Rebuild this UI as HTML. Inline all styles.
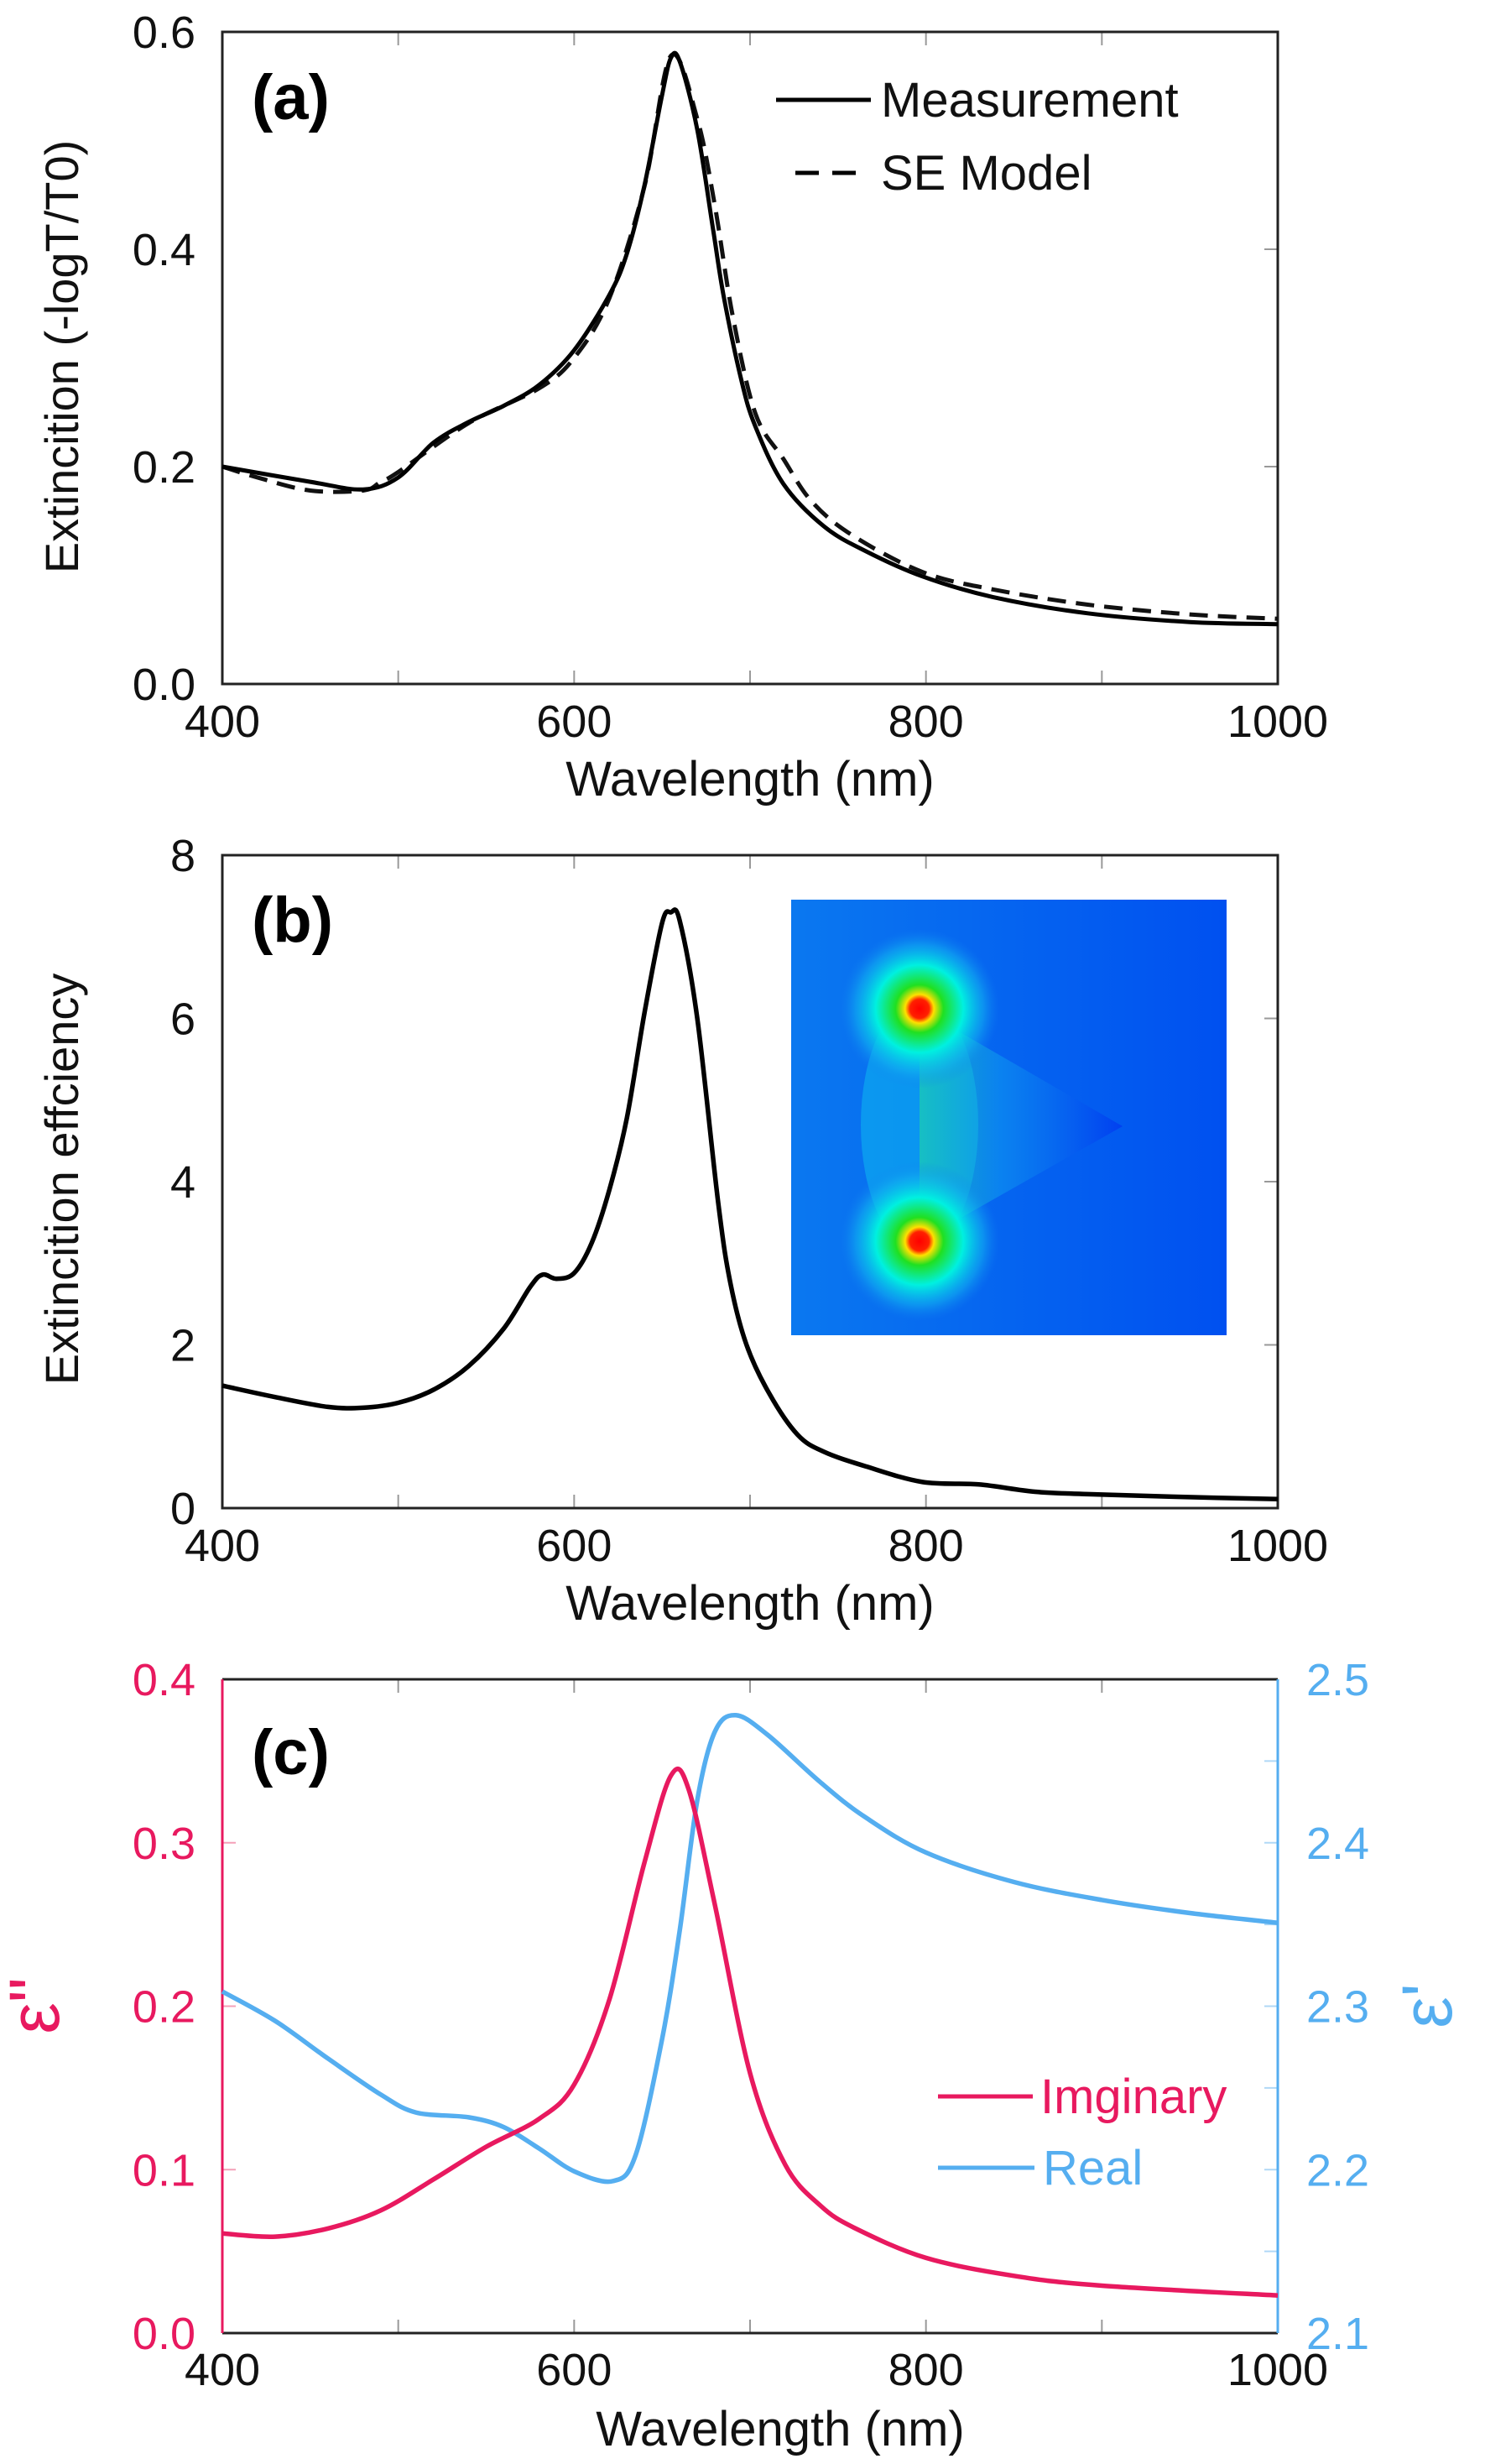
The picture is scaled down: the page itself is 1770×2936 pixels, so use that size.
<!DOCTYPE html>
<html><head><meta charset="utf-8">
<style>
html,body{margin:0;padding:0;background:#fff;}
svg{display:block;}
text{font-family:"Liberation Sans",sans-serif;}
</style></head>
<body>
<svg id="fig" width="1770" height="2936" viewBox="0 0 1770 2936" xmlns="http://www.w3.org/2000/svg">
<defs>
  <radialGradient id="hot" cx="0.5" cy="0.5" r="0.5">
    <stop offset="0" stop-color="#ff0000"/>
    <stop offset="0.12" stop-color="#ff2000"/>
    <stop offset="0.18" stop-color="#ffe000"/>
    <stop offset="0.3" stop-color="#20e020"/>
    <stop offset="0.55" stop-color="#00f0e0"/>
    <stop offset="0.8" stop-color="#10b0f0" stop-opacity="0.6"/>
    <stop offset="1" stop-color="#1080f0" stop-opacity="0"/>
  </radialGradient>
  <linearGradient id="bg" x1="0" y1="0" x2="1" y2="0">
    <stop offset="0" stop-color="#0a78f0"/>
    <stop offset="1" stop-color="#0050f0"/>
  </linearGradient>
  <linearGradient id="tri" x1="0" y1="0" x2="1" y2="0">
    <stop offset="0" stop-color="#20e0a0" stop-opacity="0.8"/>
    <stop offset="0.4" stop-color="#10a0f0" stop-opacity="0.7"/>
    <stop offset="1" stop-color="#0030f0" stop-opacity="0.9"/>
  </linearGradient>
</defs>
<g id="root"></g>
</svg>
<script>
// ---------- data ----------
const lamA = [400,450,480,500,520,540,560,580,600,620,630,640,650,655,660,670,679,685,695,703,719,742,766,798,838,892,950,1000];
const measA = [0.200,0.186,0.179,0.190,0.222,0.241,0.256,0.275,0.307,0.358,0.396,0.459,0.542,0.576,0.573,0.510,0.418,0.357,0.280,0.237,0.184,0.145,0.122,0.099,0.080,0.065,0.057,0.055];
const lamM = [400,420,450,480,490,500,540,580,600,620,640,655,670,680,690,703,719,735,758,798,838,892,950,1000];
const modelA = [0.200,0.190,0.178,0.178,0.186,0.195,0.240,0.272,0.300,0.355,0.458,0.578,0.520,0.440,0.340,0.249,0.207,0.168,0.137,0.103,0.087,0.073,0.064,0.060];
const lamB = [400,430,460,480,500,520,540,560,575,582,590,600,610,620,630,640,650,655,660,670,682,689,698,711,727,742,766,798,830,862,894,940,1000];
const effB = [1.50,1.36,1.24,1.23,1.29,1.45,1.74,2.20,2.71,2.86,2.81,2.88,3.25,3.90,4.78,6.07,7.17,7.30,7.20,6.00,3.72,2.74,2.00,1.40,0.90,0.69,0.51,0.32,0.29,0.20,0.17,0.14,0.11];
const lamCi = [400,430,460,490,520,550,580,600,620,640,655,665,680,700,720,740,760,800,850,900,1000];
const imagC = [0.061,0.059,0.064,0.075,0.094,0.114,0.131,0.152,0.204,0.288,0.341,0.333,0.262,0.159,0.103,0.078,0.064,0.046,0.035,0.029,0.023];
const lamCr = [400,430,460,490,510,540,560,580,600,622,635,650,660,670,680,692,710,740,765,800,850,900,950,1000];
const realC = [2.309,2.291,2.268,2.246,2.235,2.232,2.226,2.213,2.199,2.193,2.209,2.280,2.346,2.426,2.468,2.478,2.466,2.437,2.416,2.394,2.376,2.365,2.357,2.351];
const xTicks = [400,600,800,1000];
const yTicksA = [0.0,0.2,0.4,0.6];
const yTicksB = [0,2,4,6,8];
const yTicksCL = [0.0,0.1,0.2,0.3,0.4];
const yTicksCR = [2.1,2.2,2.3,2.4,2.5];

// ---------- helpers ----------
const NS = "http://www.w3.org/2000/svg";
const root = document.getElementById('root');
const X0 = 265, X1 = 1523;
function xs(l){ return X0 + (l-400)/600*(X1-X0); }
function mk(tag, attrs, parent){
  const e = document.createElementNS(NS, tag);
  for (const k in attrs) e.setAttribute(k, attrs[k]);
  (parent||root).appendChild(e);
  return e;
}
function smooth(pts){
  let d = "M"+pts[0][0].toFixed(1)+","+pts[0][1].toFixed(1);
  for (let i=0;i<pts.length-1;i++){
    const p0 = pts[Math.max(0,i-1)], p1=pts[i], p2=pts[i+1], p3=pts[Math.min(pts.length-1,i+2)];
    const c1x = p1[0]+(p2[0]-p0[0])/6, c1y = p1[1]+(p2[1]-p0[1])/6;
    const c2x = p2[0]-(p3[0]-p1[0])/6, c2y = p2[1]-(p3[1]-p1[1])/6;
    d += " C"+c1x.toFixed(1)+","+c1y.toFixed(1)+" "+c2x.toFixed(1)+","+c2y.toFixed(1)+" "+p2[0].toFixed(1)+","+p2[1].toFixed(1);
  }
  return d;
}
function txt(s, x, y, size, fill, anchor, extra){
  const t = mk('text', Object.assign({x:x, y:y, 'font-size':size, fill:fill, 'text-anchor':anchor||'start'}, extra||{}));
  t.textContent = s;
  return t;
}

// ================= Panel A =================
(function(){
  const top=38, bot=815;
  const ys = v => bot - v/0.6*(bot-top);
  const g = mk('g',{});
   
  for (let l=500;l<1000;l+=100){
    mk('line',{x1:xs(l),x2:xs(l),y1:bot,y2:bot-16,stroke:'#999','stroke-width':2},g);
    mk('line',{x1:xs(l),x2:xs(l),y1:top,y2:top+16,stroke:'#999','stroke-width':2},g);
  }
  yTicksA.forEach(v=>{
    mk('line',{x1:X1,x2:X1-16,y1:ys(v),y2:ys(v),stroke:'#999','stroke-width':2},g);
    const t = txt(v.toFixed(1), 233, ys(v)+19, 54, '#111', 'end', {});
     
  });
  mk('rect',{x:X0,y:top,width:X1-X0,height:bot-top,fill:'none',stroke:'#222','stroke-width':3},g);
  xTicks.forEach(v=>{
    const t = txt(String(v), xs(v), 878, 54, '#111', 'middle');
     
  });
  const xt = txt('Wavelength (nm)', 894, 948, 58, '#111', 'middle');
   
  const yt = txt('Extincition (-logT/T0)', 0, 0, 56, '#111', 'middle', {transform:'translate(93,425) rotate(-90)'});
   
  const lab = txt('(a)', 300, 142, 76, '#000', 'start', {'font-weight':'bold'});
   
  const pm = mk('path',{d:smooth(lamM.map((l,i)=>[xs(l),ys(modelA[i])])),fill:'none',stroke:'#111','stroke-width':5,'stroke-dasharray':'22 12'},g);
   
  const p = mk('path',{d:smooth(lamA.map((l,i)=>[xs(l),ys(measA[i])])),fill:'none',stroke:'#000','stroke-width':5},g);
   
  const l1 = mk('line',{x1:925,x2:1038,y1:119,y2:119,stroke:'#000','stroke-width':5},g);
   
  const t1 = txt('Measurement', 1050, 139, 58, '#111');
   
  const l2 = mk('line',{x1:948,x2:1036,y1:206,y2:206,stroke:'#000','stroke-width':5,'stroke-dasharray':'28 16'},g);
   
  const t2 = txt('SE Model', 1050, 226, 58, '#111');
   
})();

// ================= Panel B =================
(function(){
  const top=1019, bot=1797;
  const ys = v => bot - v/8*(bot-top);
  const g = mk('g',{});
   
  for (let l=500;l<1000;l+=100){
    mk('line',{x1:xs(l),x2:xs(l),y1:bot,y2:bot-16,stroke:'#999','stroke-width':2},g);
    mk('line',{x1:xs(l),x2:xs(l),y1:top,y2:top+16,stroke:'#999','stroke-width':2},g);
  }
  yTicksB.forEach(v=>{
    mk('line',{x1:X1,x2:X1-16,y1:ys(v),y2:ys(v),stroke:'#999','stroke-width':2},g);
    const t = txt(String(v), 233, ys(v)+19, 54, '#111', 'end');
     
  });
  mk('rect',{x:X0,y:top,width:X1-X0,height:bot-top,fill:'none',stroke:'#222','stroke-width':3},g);
  xTicks.forEach(v=>{
    const t = txt(String(v), xs(v), 1860, 54, '#111', 'middle');
     
  });
  const xt = txt('Wavelength (nm)', 894, 1930, 58, '#111', 'middle');
   
  const yt = txt('Extincition effciency', 0, 0, 56, '#111', 'middle', {transform:'translate(93,1405) rotate(-90)'});
   
  const lab = txt('(b)', 300, 1122, 76, '#000', 'start', {'font-weight':'bold'});
   
  // inset
  const ins = mk('g',{},g);
   
  mk('rect',{x:943,y:1072,width:519,height:519,fill:'url(#bg)'},ins);
  mk('ellipse',{cx:1096,cy:1340,rx:70,ry:150,fill:'#10c8f0',opacity:0.45},ins);
  mk('polygon',{points:'1096,1202 1338,1342 1096,1479',fill:'url(#tri)',opacity:0.7},ins);
  mk('circle',{cx:1096,cy:1202,r:95,fill:'url(#hot)'},ins);
  mk('circle',{cx:1096,cy:1479,r:95,fill:'url(#hot)'},ins);
  const p = mk('path',{d:smooth(lamB.map((l,i)=>[xs(l),ys(effB[i])])),fill:'none',stroke:'#000','stroke-width':5.5},g);
   
})();

// ================= Panel C =================
(function(){
  const top=2001, bot=2780;
  const PINK='#e8195f', BLUE='#55aef0';
  const ysL = v => bot - v/0.4*(bot-top);
  const ysR = v => bot - (v-2.1)/0.4*(bot-top);
  const g = mk('g',{});
   
  for (let l=500;l<1000;l+=100){
    mk('line',{x1:xs(l),x2:xs(l),y1:bot,y2:bot-16,stroke:'#999','stroke-width':2},g);
    mk('line',{x1:xs(l),x2:xs(l),y1:top,y2:top+16,stroke:'#999','stroke-width':2},g);
  }
  yTicksCL.forEach(v=>{
    mk('line',{x1:X0,x2:X0+16,y1:ysL(v),y2:ysL(v),stroke:'#f4a0b8','stroke-width':2},g);
    const t = txt(v.toFixed(1), 233, ysL(v)+19, 54, PINK, 'end');
     
  });
  for (let v=2.1; v<2.501; v+=0.05){
    mk('line',{x1:X1,x2:X1-16,y1:ysR(v),y2:ysR(v),stroke:'#b0d8f6','stroke-width':2},g);
  }
  yTicksCR.forEach(v=>{
    const t = txt(v.toFixed(1), 1557, ysR(v)+19, 54, BLUE, 'start');
     
  });
  mk('line',{x1:X0,x2:X1,y1:top,y2:top,stroke:'#222','stroke-width':3},g);
  mk('line',{x1:X0,x2:X1,y1:bot,y2:bot,stroke:'#222','stroke-width':3},g);
  const la = mk('line',{x1:X0,x2:X0,y1:top,y2:bot,stroke:PINK,'stroke-width':3},g);
   
  const ra = mk('line',{x1:X1,x2:X1,y1:top,y2:bot,stroke:BLUE,'stroke-width':3},g);
   
  xTicks.forEach(v=>{
    const t = txt(String(v), xs(v), 2842, 54, '#111', 'middle');
     
  });
  const xt = txt('Wavelength (nm)', 930, 2914, 58, '#111', 'middle');
   
  const yl = txt('ε"', 0, 0, 84, PINK, 'middle', {transform:'translate(70,2390) rotate(-90)'});
   
  const yr = txt("ε'", 0, 0, 84, BLUE, 'middle', {transform:'translate(1730,2390) rotate(-90)'});
   
  const lab = txt('(c)', 300, 2114, 76, '#000', 'start', {'font-weight':'bold'});
   
  const pr = mk('path',{d:smooth(lamCr.map((l,i)=>[xs(l),ysR(realC[i])])),fill:'none',stroke:BLUE,'stroke-width':5.5},g);
   
  const pi = mk('path',{d:smooth(lamCi.map((l,i)=>[xs(l),ysL(imagC[i])])),fill:'none',stroke:PINK,'stroke-width':5.5},g);
   
  const s1 = mk('line',{x1:1118,x2:1231,y1:2498,y2:2498,stroke:PINK,'stroke-width':5},g);
   
  const t1 = txt('Imginary', 1240, 2518, 58, PINK);
   
  const s2 = mk('line',{x1:1118,x2:1233,y1:2583,y2:2583,stroke:BLUE,'stroke-width':5},g);
   
  const t2 = txt('Real', 1243, 2603, 58, BLUE);
   
})();
</script>
</body></html>
